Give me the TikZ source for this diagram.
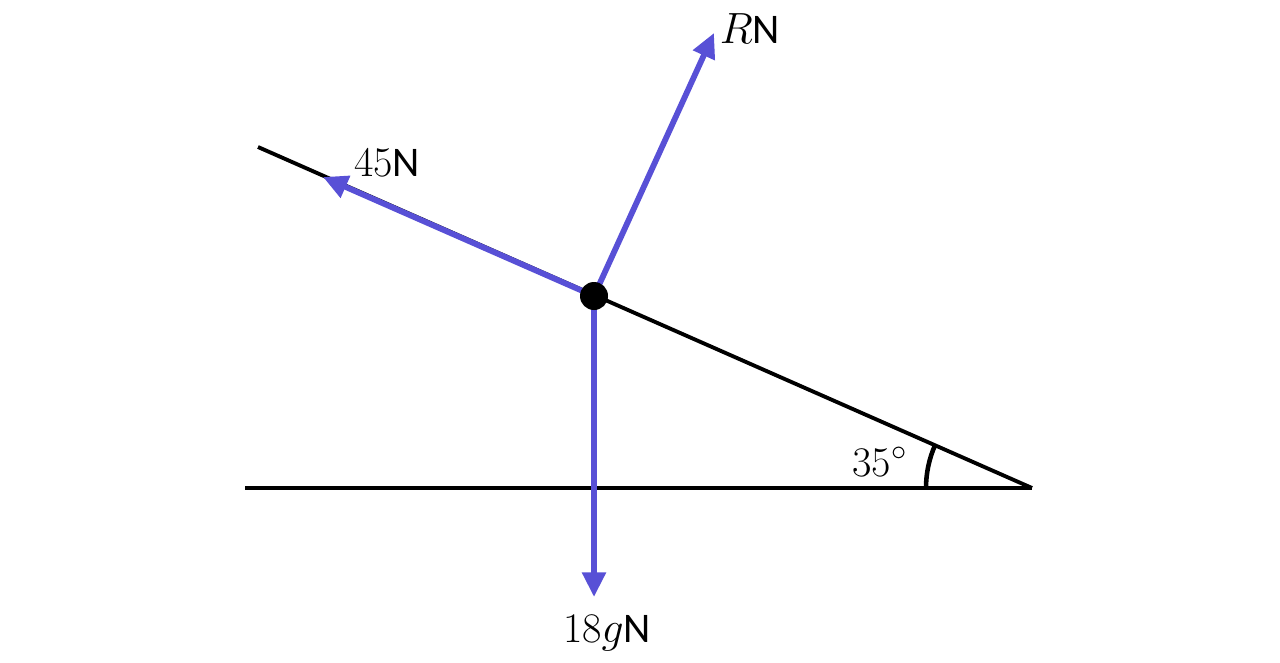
\documentclass[tikz,border=0pt]{standalone}
\usepackage{fontspec}
\newfontfamily\nfont{Carlito}
\usetikzlibrary{arrows.meta}
\definecolor{forceblue}{RGB}{88,80,214}
\begin{document}
\begin{tikzpicture}[x=0.02cm,y=-0.02cm,
  ground/.style={line width=2.2pt,black},
  force/.style={line width=3.3pt,forceblue,-{Triangle[length=14pt,width=13pt]}},
  lbl/.style={font=\fontsize{24}{28}\selectfont,inner sep=0pt}]
\useasboundingbox (0,0) rectangle (1280,662);
\coordinate (hl) at (245,488);
\coordinate (apex) at (1032,488);
\coordinate (it) at (258,147);
\coordinate (P) at (594,296);
\coordinate (Rt) at (714,33);
\coordinate (Ft) at (323,177);
\coordinate (Wt) at (594,597);
\draw[ground] (hl) -- (apex);
\draw[ground] (apex) -- (it);
\draw[line width=2.6pt] ([shift={(180:106)}]apex) arc[start angle=180,end angle=203.8,radius=106];
\draw[force] (P) -- (Rt);
\draw[force] (P) -- (Ft);
\draw[force] (P) -- (Wt);
\fill (P) circle[radius=14];
\node[lbl] (lR) at (750,29) {$R${\nfont N}};
\node[lbl] (lF) at (387,163) {45{\nfont N}};
\node[lbl] (lA) at (880,462) {35$^\circ$};
\node[lbl] (lW) at (607,633) {18$g${\nfont N}};
\end{tikzpicture}
\end{document}
